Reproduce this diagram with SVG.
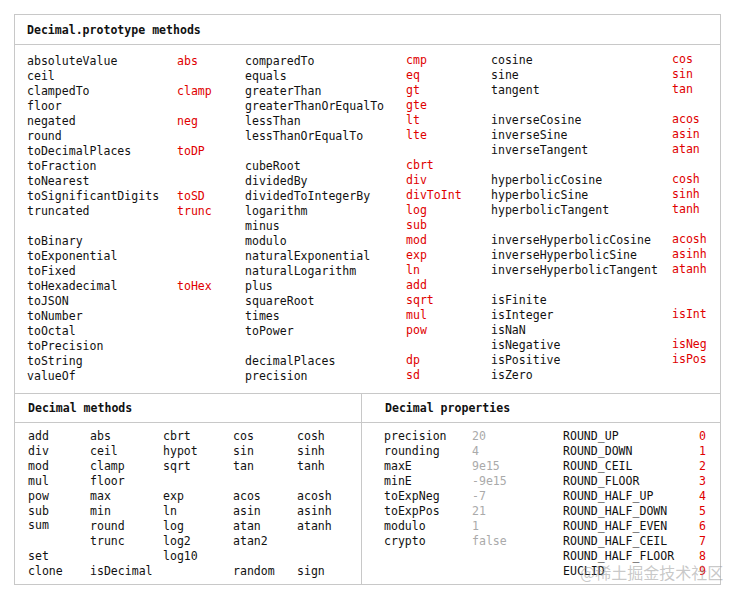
<svg xmlns="http://www.w3.org/2000/svg" width="735" height="599" viewBox="0 0 735 599">
<style>
text{font-family:"DejaVu Sans Mono","Liberation Mono",monospace;font-size:11.55px;fill:#111}
.h{font-weight:bold}
.r{fill:#e00000}
.g{fill:#aaaaaa}
.ln{stroke:#c8c8c8;stroke-width:1;fill:none}
.wm{font-family:"Noto Sans CJK SC","Noto Sans",sans-serif;font-size:16px;fill:#9a9a9a;fill-opacity:0.55}
</style>
<rect width="735" height="599" fill="#fff"/>
<g id="frame">
<rect class="ln" x="14.5" y="14.5" width="706" height="570"/>
<line class="ln" x1="14.5" y1="44.5" x2="720.5" y2="44.5"/>
<line class="ln" x1="14.5" y1="393.5" x2="720.5" y2="393.5"/>
<line class="ln" x1="14.5" y1="422.5" x2="720.5" y2="422.5"/>
<line class="ln" x1="361.5" y1="393.5" x2="361.5" y2="584.5"/>
</g>
<g id="prototype-methods">
<text class="h" x="27" y="34">Decimal.prototype methods</text>
<g id="proto-col1">
<text x="27" y="65">absoluteValue</text><text class="r" x="177" y="65">abs</text>
<text x="27" y="80">ceil</text>
<text x="27" y="95">clampedTo</text><text class="r" x="177" y="95">clamp</text>
<text x="27" y="110">floor</text>
<text x="27" y="125">negated</text><text class="r" x="177" y="125">neg</text>
<text x="27" y="140">round</text>
<text x="27" y="155">toDecimalPlaces</text><text class="r" x="177" y="155">toDP</text>
<text x="27" y="170">toFraction</text>
<text x="27" y="185">toNearest</text>
<text x="27" y="200">toSignificantDigits</text><text class="r" x="177" y="200">toSD</text>
<text x="27" y="215">truncated</text><text class="r" x="177" y="215">trunc</text>
<text x="27" y="245">toBinary</text>
<text x="27" y="260">toExponential</text>
<text x="27" y="275">toFixed</text>
<text x="27" y="290">toHexadecimal</text><text class="r" x="177" y="290">toHex</text>
<text x="27" y="305">toJSON</text>
<text x="27" y="320">toNumber</text>
<text x="27" y="335">toOctal</text>
<text x="27" y="350">toPrecision</text>
<text x="27" y="365">toString</text>
<text x="27" y="380">valueOf</text>
</g>
<g id="proto-col2">
<text x="245" y="65">comparedTo</text><text class="r" x="406" y="64">cmp</text>
<text x="245" y="80">equals</text><text class="r" x="406" y="79">eq</text>
<text x="245" y="95">greaterThan</text><text class="r" x="406" y="94">gt</text>
<text x="245" y="110">greaterThanOrEqualTo</text><text class="r" x="406" y="109">gte</text>
<text x="245" y="125">lessThan</text><text class="r" x="406" y="124">lt</text>
<text x="245" y="140">lessThanOrEqualTo</text><text class="r" x="406" y="139">lte</text>
<text x="245" y="170">cubeRoot</text><text class="r" x="406" y="169">cbrt</text>
<text x="245" y="185">dividedBy</text><text class="r" x="406" y="184">div</text>
<text x="245" y="200">dividedToIntegerBy</text><text class="r" x="406" y="199">divToInt</text>
<text x="245" y="215">logarithm</text><text class="r" x="406" y="214">log</text>
<text x="245" y="230">minus</text><text class="r" x="406" y="229">sub</text>
<text x="245" y="245">modulo</text><text class="r" x="406" y="244">mod</text>
<text x="245" y="260">naturalExponential</text><text class="r" x="406" y="259">exp</text>
<text x="245" y="275">naturalLogarithm</text><text class="r" x="406" y="274">ln</text>
<text x="245" y="290">plus</text><text class="r" x="406" y="289">add</text>
<text x="245" y="305">squareRoot</text><text class="r" x="406" y="304">sqrt</text>
<text x="245" y="320">times</text><text class="r" x="406" y="319">mul</text>
<text x="245" y="335">toPower</text><text class="r" x="406" y="334">pow</text>
<text x="245" y="365">decimalPlaces</text><text class="r" x="406" y="364">dp</text>
<text x="245" y="380">precision</text><text class="r" x="406" y="379">sd</text>
</g>
<g id="proto-col3">
<text x="491" y="64">cosine</text><text class="r" x="672" y="63">cos</text>
<text x="491" y="79">sine</text><text class="r" x="672" y="78">sin</text>
<text x="491" y="94">tangent</text><text class="r" x="672" y="93">tan</text>
<text x="491" y="124">inverseCosine</text><text class="r" x="672" y="123">acos</text>
<text x="491" y="139">inverseSine</text><text class="r" x="672" y="138">asin</text>
<text x="491" y="154">inverseTangent</text><text class="r" x="672" y="153">atan</text>
<text x="491" y="184">hyperbolicCosine</text><text class="r" x="672" y="183">cosh</text>
<text x="491" y="199">hyperbolicSine</text><text class="r" x="672" y="198">sinh</text>
<text x="491" y="214">hyperbolicTangent</text><text class="r" x="672" y="213">tanh</text>
<text x="491" y="244">inverseHyperbolicCosine</text><text class="r" x="672" y="243">acosh</text>
<text x="491" y="259">inverseHyperbolicSine</text><text class="r" x="672" y="258">asinh</text>
<text x="491" y="274">inverseHyperbolicTangent</text><text class="r" x="672" y="273">atanh</text>
<text x="491" y="304">isFinite</text>
<text x="491" y="319">isInteger</text><text class="r" x="672" y="318">isInt</text>
<text x="491" y="334">isNaN</text>
<text x="491" y="349">isNegative</text><text class="r" x="672" y="348">isNeg</text>
<text x="491" y="364">isPositive</text><text class="r" x="672" y="363">isPos</text>
<text x="491" y="379">isZero</text>
</g>
</g>
<g id="decimal-methods">
<text class="h" x="28" y="412">Decimal methods</text>
<text x="28" y="440">add</text><text x="90" y="440">abs</text><text x="163" y="440">cbrt</text><text x="233" y="440">cos</text><text x="297" y="440">cosh</text>
<text x="28" y="455">div</text><text x="90" y="455">ceil</text><text x="163" y="455">hypot</text><text x="233" y="455">sin</text><text x="297" y="455">sinh</text>
<text x="28" y="470">mod</text><text x="90" y="470">clamp</text><text x="163" y="470">sqrt</text><text x="233" y="470">tan</text><text x="297" y="470">tanh</text>
<text x="28" y="485">mul</text><text x="90" y="485">floor</text>
<text x="28" y="500">pow</text><text x="90" y="500">max</text><text x="163" y="500">exp</text><text x="233" y="500">acos</text><text x="297" y="500">acosh</text>
<text x="28" y="515">sub</text><text x="90" y="515">min</text><text x="163" y="515">ln</text><text x="233" y="515">asin</text><text x="297" y="515">asinh</text>
<text x="28" y="529">sum</text><text x="90" y="530">round</text><text x="163" y="530">log</text><text x="233" y="530">atan</text><text x="297" y="530">atanh</text>
<text x="90" y="545">trunc</text><text x="163" y="545">log2</text><text x="233" y="545">atan2</text>
<text x="28" y="560">set</text><text x="163" y="560">log10</text>
<text x="28" y="575">clone</text><text x="90" y="575">isDecimal</text><text x="233" y="575">random</text><text x="297" y="575">sign</text>
</g>
<g id="decimal-properties">
<text class="h" x="385" y="412">Decimal properties</text>
<text x="384" y="440">precision</text><text class="g" x="472" y="440">20</text>
<text x="384" y="455">rounding</text><text class="g" x="472" y="455">4</text>
<text x="384" y="470">maxE</text><text class="g" x="472" y="470">9e15</text>
<text x="384" y="485">minE</text><text class="g" x="472" y="485">-9e15</text>
<text x="384" y="500">toExpNeg</text><text class="g" x="472" y="500">-7</text>
<text x="384" y="515">toExpPos</text><text class="g" x="472" y="515">21</text>
<text x="384" y="530">modulo</text><text class="g" x="472" y="530">1</text>
<text x="384" y="545">crypto</text><text class="g" x="472" y="545">false</text>
<text x="563" y="440">ROUND_UP</text><text class="r" x="699" y="440">0</text>
<text x="563" y="455">ROUND_DOWN</text><text class="r" x="699" y="455">1</text>
<text x="563" y="470">ROUND_CEIL</text><text class="r" x="699" y="470">2</text>
<text x="563" y="485">ROUND_FLOOR</text><text class="r" x="699" y="485">3</text>
<text x="563" y="500">ROUND_HALF_UP</text><text class="r" x="699" y="500">4</text>
<text x="563" y="515">ROUND_HALF_DOWN</text><text class="r" x="699" y="515">5</text>
<text x="563" y="530">ROUND_HALF_EVEN</text><text class="r" x="699" y="530">6</text>
<text x="563" y="545">ROUND_HALF_CEIL</text><text class="r" x="699" y="545">7</text>
<text x="563" y="560">ROUND_HALF_FLOOR</text><text class="r" x="699" y="560">8</text>
<text x="563" y="575">EUCLID</text><text class="r" x="699" y="575">9</text>
</g>
<text class="wm" x="580" y="579">@稀土掘金技术社区</text>
</svg>
